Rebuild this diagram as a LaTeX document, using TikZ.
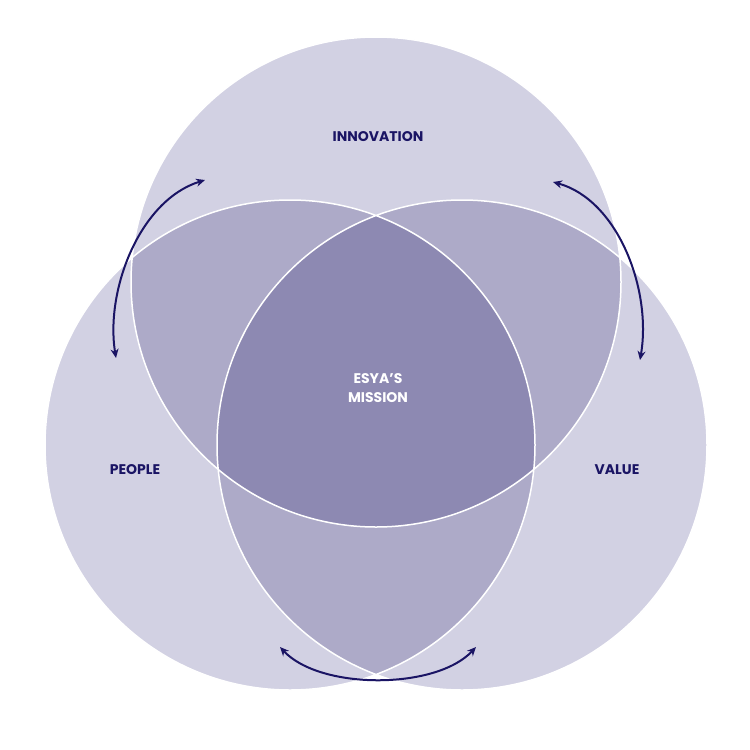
\documentclass[tikz,border=0pt]{standalone}
\usepackage{fontspec}
\setmainfont{Poppins}
\usetikzlibrary{arrows.meta}
\definecolor{c1}{HTML}{D2D1E3}
\definecolor{c2}{HTML}{ADAAC8}
\definecolor{c3}{HTML}{8D89B2}
\definecolor{navy}{HTML}{1A1464}
\begin{document}
\begin{tikzpicture}[x=1pt,y=-1pt,
  lbl/.style={font=\bfseries\fontsize{14}{17}\selectfont,text=navy,align=center},
  arr/.style={navy,line width=2pt,{Stealth[length=9pt,width=8pt]}-{Stealth[length=9pt,width=8pt]}}]
\useasboundingbox (0,0) rectangle (750,750);
\def\R{245}
\coordinate (T) at (376,282);
\coordinate (L) at (290,445);
\coordinate (Rr) at (462,445);
\fill[c1] (T) circle (\R) (L) circle (\R) (Rr) circle (\R);
\begin{scope}\clip (T) circle (\R); \fill[c2] (L) circle (\R) (Rr) circle (\R);\end{scope}
\begin{scope}\clip (L) circle (\R); \fill[c2] (Rr) circle (\R);\end{scope}
\begin{scope}\clip (T) circle (\R); \clip (L) circle (\R); \fill[c3] (Rr) circle (\R);\end{scope}
\draw[white,line width=1.5pt] (T) circle (\R) (L) circle (\R) (Rr) circle (\R);
\node[lbl] (inn) at (378,137) {INNOVATION};
\node[lbl] (peo) at (135,470) {PEOPLE};
\node[lbl] (val) at (617,470) {VALUE};
\node[lbl,text=white,font=\bfseries\fontsize{14}{19}\selectfont] (mis) at (378,388) {ESYA’S\\MISSION};
\coordinate (a1) at (205,180); \coordinate (a2) at (116,358);
\coordinate (b1) at (553,182); \coordinate (b2) at (640,360);
\coordinate (c1p) at (280,647); \coordinate (c2p) at (476,647);
\draw[arr] (a1) .. controls (140,200) and (105,290) .. (a2);
\draw[arr] (b1) .. controls (618,200) and (652,290) .. (b2);
\draw[arr] (c1p) .. controls (320,690) and (436,690) .. (c2p);
\end{tikzpicture}
\end{document}
